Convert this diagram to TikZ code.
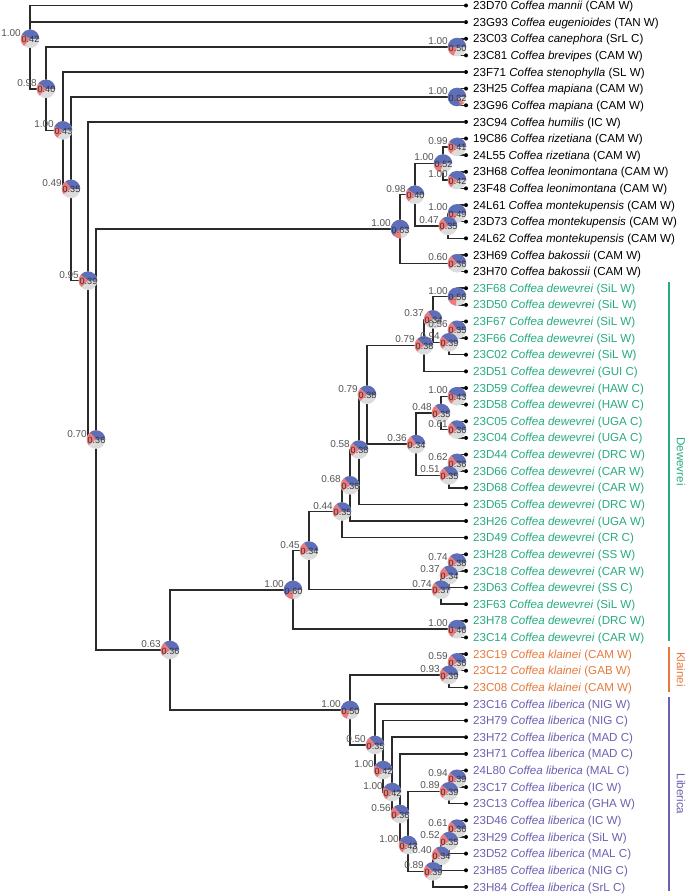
\documentclass[tikz,border=0pt]{standalone}
\usepackage{fontspec}
\setmainfont{Liberation Sans}
\usetikzlibrary{calc}

\newlength{\du}
\setlength{\du}{1pt}

\definecolor{linecolor}{rgb}{0.17,0.17,0.17}
\definecolor{dewcolor}{rgb}{0.153,0.667,0.510}
\definecolor{klacolor}{rgb}{0.898,0.475,0.235}
\definecolor{libcolor}{rgb}{0.431,0.373,0.686}
\definecolor{pieblue}{rgb}{0.373,0.431,0.725}
\definecolor{piered}{rgb}{0.937,0.478,0.478}
\definecolor{piegray}{rgb}{0.863,0.863,0.863}
\definecolor{suppcolor}{rgb}{0.33,0.33,0.33}

\tikzset{
  branch/.style={draw=linecolor, line width=1.5\du},
  tipdot/.style={circle, fill=black, inner sep=0pt, minimum size=4\du},
  tiplab/.style={anchor=base west, inner sep=0pt, font=\fontsize{11.6}{13}\selectfont},
  supplab/.style={anchor=base east, inner sep=0pt, text=suppcolor, font=\fontsize{10}{12}\selectfont},
  pielab/.style={inner sep=0pt, text=black!80, font=\fontsize{9}{11}\selectfont},
  cladebar/.style={line width=2\du},
  cladelab/.style={rotate=-90, inner sep=0pt, font=\fontsize{11.6}{13}\selectfont},
}

% quartet pie: node, main share
\newcommand{\qpie}[2]{%
  \fill[piegray] (#1) circle[radius=9.3];
  \fill[pieblue] (#1) -- ++(0:9.3) arc[start angle=0, end angle={-360*#2}, radius=9.3] -- cycle;
  \fill[piered] (#1) -- ++({-360*#2}:9.3) arc[start angle={-360*#2}, end angle={-360*(#2+0.38*(1-#2))}, radius=9.3] -- cycle;
}

% inner nodes: name/x/y/support/share
\def\innerlist{riz/457/146.9/0.99/0.41, leo/457/180.1/1.00/0.42, rizleo/443/163.5/1.00/0.52,
  mont1/457/213.4/1.00/0.49, mont/448/225.9/0.47/0.35, cam1/415/194.7/0.98/0.40,
  bako/457/263.3/0.60/0.36, cam/400/229.0/1.00/0.63,
  canbre/457/47.1/1.00/0.50, mapi/457/97.0/1.00/0.82,
  dw1/457/296.6/1.00/0.56, dw2/457/329.8/0.56/0.35, dw3/449/342.3/0.94/0.39,
  dw4/433/319.4/0.37/0.34, dw5/424/345.4/0.79/0.38,
  dw6/457/396.3/1.00/0.43, dw7/457/429.6/0.61/0.36, dw8/441/413.0/0.48/0.35,
  dw9/457/462.9/0.62/0.36, dw10/449/475.4/0.51/0.35, dw11/416/444.2/0.36/0.34,
  dw12/367/394.8/0.79/0.38, dw13/359/449.6/0.58/0.38, dw14/350/485.3/0.68/0.36,
  dw15/342/511.5/0.44/0.35, dw16/457/562.6/0.74/0.38, dw17/449/575.1/0.37/0.34,
  dw18/441/589.7/0.74/0.37, dw19/309/550.6/0.45/0.34, dw20/457/629.2/1.00/0.46,
  dew/293/589.9/1.00/0.60,
  kla1/457/662.4/0.59/0.36, kla/449/674.9/0.93/0.39,
  lib7/457/778.8/0.94/0.39, lib6/449/791.3/0.89/0.39,
  lib8/457/828.7/0.61/0.36, lib9/449/841.2/0.52/0.35, lib10/441/855.8/0.40/0.34,
  lib11/433/871.3/0.89/0.39, lib5/408/845/1.00/0.43, lib4/400/814/0.56/0.36,
  lib3/392/792/1.00/0.42, lib2/383/770/1.00/0.42, lib1/375/745/0.50/0.35,
  klalib/350/710/1.00/0.50,
  n6/170/650/0.63/0.36, n5/96/439.5/0.70/0.36, n4/88/280.7/0.95/0.39,
  n3/71/188.9/0.49/0.35, n2/63/130.4/1.00/0.43, n1/46/88.8/0.98/0.40,
  root/30/38.8/1.00/0.42}

\begin{document}
\begin{tikzpicture}[x=1\du, y=1\du, yscale=-1]
\useasboundingbox (0,0) rectangle (685,896);

% tips
\foreach \tid/\tsp/\treg/\tcol [count=\i] in {
23D70/mannii/CAM W/black,
23G93/eugenioides/TAN W/black,
23C03/canephora/SrL C/black,
23C81/brevipes/CAM W/black,
23F71/stenophylla/SL W/black,
23H25/mapiana/CAM W/black,
23G96/mapiana/CAM W/black,
23C94/humilis/IC W/black,
19C86/rizetiana/CAM W/black,
24L55/rizetiana/CAM W/black,
23H68/leonimontana/CAM W/black,
23F48/leonimontana/CAM W/black,
24L61/montekupensis/CAM W/black,
23D73/montekupensis/CAM W/black,
24L62/montekupensis/CAM W/black,
23H69/bakossii/CAM W/black,
23H70/bakossii/CAM W/black,
23F68/dewevrei/SiL W/dewcolor,
23D50/dewevrei/SiL W/dewcolor,
23F67/dewevrei/SiL W/dewcolor,
23F66/dewevrei/SiL W/dewcolor,
23C02/dewevrei/SiL W/dewcolor,
23D51/dewevrei/GUI C/dewcolor,
23D59/dewevrei/HAW C/dewcolor,
23D58/dewevrei/HAW C/dewcolor,
23C05/dewevrei/UGA C/dewcolor,
23C04/dewevrei/UGA C/dewcolor,
23D44/dewevrei/DRC W/dewcolor,
23D66/dewevrei/CAR W/dewcolor,
23D68/dewevrei/CAR W/dewcolor,
23D65/dewevrei/DRC W/dewcolor,
23H26/dewevrei/UGA W/dewcolor,
23D49/dewevrei/CR C/dewcolor,
23H28/dewevrei/SS W/dewcolor,
23C18/dewevrei/CAR W/dewcolor,
23D63/dewevrei/SS C/dewcolor,
23F63/dewevrei/SiL W/dewcolor,
23H78/dewevrei/DRC W/dewcolor,
23C14/dewevrei/CAR W/dewcolor,
23C19/klainei/CAM W/klacolor,
23C12/klainei/GAB W/klacolor,
23C08/klainei/CAM W/klacolor,
23C16/liberica/NIG W/libcolor,
23H79/liberica/NIG C/libcolor,
23H72/liberica/MAD C/libcolor,
23H71/liberica/MAD C/libcolor,
24L80/liberica/MAL C/libcolor,
23C17/liberica/IC W/libcolor,
23C13/liberica/GHA W/libcolor,
23D46/liberica/IC W/libcolor,
23H29/liberica/SiL W/libcolor,
23D52/liberica/MAL C/libcolor,
23H85/liberica/NIG C/libcolor,
23H84/liberica/SrL C/libcolor}{
\node[tipdot] (t\i) at (466,{5.5+16.63*(\i-1)}) {};
\node[tiplab, text=\tcol] (l\i) at ($(t\i)+(7,4.1)$) {\tid\ \textit{Coffea \tsp} (\treg)};
}

\foreach \nm/\nx/\ny/\s/\q in \innerlist {\coordinate (\nm) at (\nx,\ny);}

% branches
\foreach \pa/\ch in {root/t1, root/t2, root/n1, n1/canbre, n1/n2, canbre/t3, canbre/t4,
  n2/t5, n2/n3, n3/mapi, n3/n4, mapi/t6, mapi/t7, n4/t8, n4/n5, n5/cam, n5/n6,
  cam/cam1, cam/bako, cam1/rizleo, cam1/mont, rizleo/riz, rizleo/leo,
  riz/t9, riz/t10, leo/t11, leo/t12, mont/mont1, mont/t15, mont1/t13, mont1/t14,
  bako/t16, bako/t17, n6/dew, n6/klalib, dew/dw19, dew/dw20, dw19/dw15, dw19/dw18,
  dw15/dw14, dw15/t33, dw14/dw13, dw14/t32, dw13/dw12, dw13/t31, dw12/dw5, dw12/dw11,
  dw5/dw4, dw5/t23, dw4/dw1, dw4/dw3, dw1/t18, dw1/t19, dw3/dw2, dw3/t22, dw2/t20, dw2/t21,
  dw11/dw8, dw11/dw10, dw8/dw6, dw8/dw7, dw6/t24, dw6/t25, dw7/t26, dw7/t27,
  dw10/dw9, dw10/t30, dw9/t28, dw9/t29, dw18/dw17, dw18/t37, dw17/dw16, dw17/t36,
  dw16/t34, dw16/t35, dw20/t38, dw20/t39, klalib/kla, klalib/lib1,
  kla/kla1, kla/t42, kla1/t40, kla1/t41, lib1/t43, lib1/lib2, lib2/t44, lib2/lib3,
  lib3/t45, lib3/lib4, lib4/t46, lib4/lib5, lib5/lib6, lib5/lib11, lib6/lib7, lib6/t49,
  lib7/t47, lib7/t48, lib11/lib10, lib11/t54, lib10/lib9, lib10/t53, lib9/lib8, lib9/t52,
  lib8/t50, lib8/t51}
  \draw[branch] (\pa) |- (\ch);

% pies, then their numbers
\foreach \nm/\nx/\ny/\s/\q in \innerlist {\qpie{\nm}{\q}}
\foreach \nm/\nx/\ny/\s/\q in \innerlist {
  \node[pielab] at ($(\nm)+(0.5,1)$) {\q};
  \node[supplab] at ($(\nm)+(-9,-2.5)$) {\s};
}

% clades
\draw[cladebar, dewcolor] (669,282) -- (669,641);
\node[cladelab, text=dewcolor] (cdew) at (681,461.5) {Dewevrei};
\draw[cladebar, klacolor] (669,647) -- (669,692);
\node[cladelab, text=klacolor] (ckla) at (681,669.5) {Klainei};
\draw[cladebar, libcolor] (669,697) -- (669,891);
\node[cladelab, text=libcolor] (clib) at (681,794) {Liberica};
\end{tikzpicture}
\end{document}
